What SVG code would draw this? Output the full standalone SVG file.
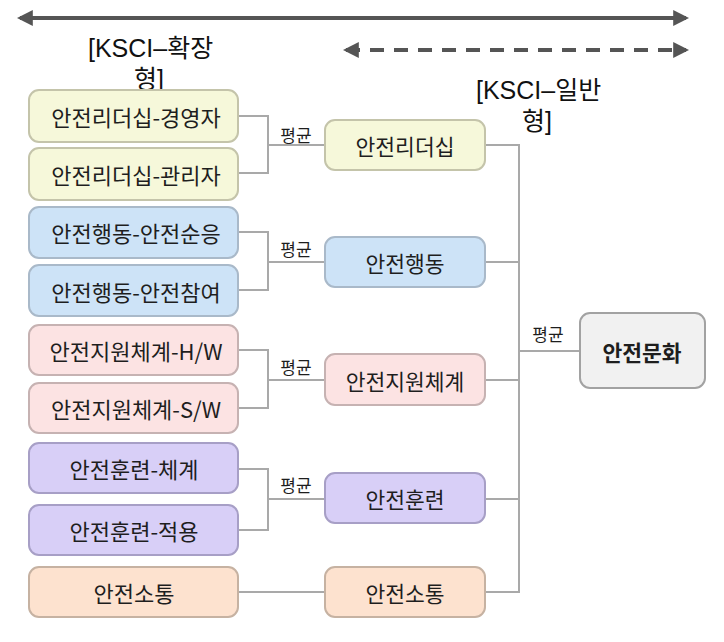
<svg xmlns="http://www.w3.org/2000/svg" width="724" height="642" viewBox="0 0 724 642">
<style>
text{font-family:"Noto Sans CJK KR","Noto Sans",sans-serif;fill:#1e1e1e;text-anchor:middle;dominant-baseline:central}
.box{stroke-width:2;rx:10;ry:10}
.y{fill:#f6f8da;stroke:#c4c4aa}
.b{fill:#cde3f7;stroke:#a9b9c9}
.p{fill:#fce3e3;stroke:#c6b2b2}
.v{fill:#d8cff7;stroke:#a79fc6}
.o{fill:#fde2cf;stroke:#c6b2a2}
.g{fill:#f1f1f1;stroke:#a2a2a2}
.t{font-size:22px}
.m{font-size:21.5px}
.avg{font-size:17px}
.hd{font-family:"Liberation Sans","Noto Sans CJK KR",sans-serif;font-size:25px;text-anchor:start;fill:#111;dominant-baseline:auto}
.ln{fill:none;stroke:#a9a9a9;stroke-width:2}
</style>
<defs>
<marker id="ah" viewBox="0 0 10 10" refX="8" refY="5" markerWidth="4" markerHeight="4" orient="auto-start-reverse"><path d="M0,0 L10,5 L0,10 z" fill="#555"/></marker>
</defs>
<g id="scale">
<line x1="20" y1="18" x2="686" y2="18" stroke="#555" stroke-width="4" marker-start="url(#ah)" marker-end="url(#ah)"/>
<line x1="346" y1="50" x2="686" y2="50" stroke="#555" stroke-width="4" stroke-dasharray="14 10" marker-start="url(#ah)" marker-end="url(#ah)"/>
<text class="hd" x="88" y="57">[KSCI–확장</text>
<text class="hd" x="134" y="88">형]</text>
<text class="hd" x="476" y="99">[KSCI–일반</text>
<text class="hd" x="522" y="130">형]</text>
</g>
<g id="connectors">
<path class="ln" d="M238,116 H268 V173 H238 M268,145 H325"/>
<path class="ln" d="M238,232 H268 V290 H238 M268,262 H325"/>
<path class="ln" d="M238,350 H268 V408 H238 M268,380 H325"/>
<path class="ln" d="M238,469 H268 V530 H238 M268,499 H325"/>
<path class="ln" d="M238,592 H325"/>
<path class="ln" d="M485,145 H519 V592 H485 M485,262 H519 M485,380 H519 M485,499 H519 M519,351 H580"/>
<text class="avg" x="296" y="134">평균</text>
<text class="avg" x="296" y="248">평균</text>
<text class="avg" x="296" y="366">평균</text>
<text class="avg" x="296" y="484">평균</text>
<text class="avg" x="548" y="333">평균</text>
</g>
<g id="n1"><rect class="box y" x="29" y="90" width="209" height="52"/><text class="t" x="136" y="116">안전리더십-경영자</text></g>
<g id="n2"><rect class="box y" x="29" y="148" width="209" height="52"/><text class="t" x="136" y="174">안전리더십-관리자</text></g>
<g id="n3"><rect class="box b" x="29" y="207" width="209" height="51"/><text class="t" x="136" y="232">안전행동-안전순응</text></g>
<g id="n4"><rect class="box b" x="29" y="265" width="209" height="51"/><text class="t" x="136" y="291">안전행동-안전참여</text></g>
<g id="n5"><rect class="box p" x="29" y="325" width="209" height="50"/><text class="t" x="136" y="350">안전지원체계-H/W</text></g>
<g id="n6"><rect class="box p" x="29" y="383" width="209" height="50"/><text class="t" x="136" y="408">안전지원체계-S/W</text></g>
<g id="n7"><rect class="box v" x="29" y="443" width="209" height="50"/><text class="t" x="134" y="468">안전훈련-체계</text></g>
<g id="n8"><rect class="box v" x="29" y="505" width="209" height="50"/><text class="t" x="134" y="530">안전훈련-적용</text></g>
<g id="n9"><rect class="box o" x="29" y="567" width="209" height="50"/><text class="t" x="134" y="592">안전소통</text></g>
<g id="m1"><rect class="box y" x="325" y="120" width="160" height="50"/><text class="m" x="405" y="145">안전리더십</text></g>
<g id="m2"><rect class="box b" x="325" y="237" width="160" height="50"/><text class="m" x="405" y="262">안전행동</text></g>
<g id="m3"><rect class="box p" x="325" y="354" width="160" height="51"/><text class="m" x="405" y="380">안전지원체계</text></g>
<g id="m4"><rect class="box v" x="325" y="473" width="160" height="50"/><text class="m" x="405" y="498">안전훈련</text></g>
<g id="m5"><rect class="box o" x="325" y="567" width="160" height="50"/><text class="m" x="405" y="592">안전소통</text></g>
<g id="root"><rect class="box g" x="580" y="313" width="125" height="75" rx="13" ry="13"/><text class="m" x="642" y="351" font-weight="bold" font-size="23px">안전문화</text></g>
</svg>
